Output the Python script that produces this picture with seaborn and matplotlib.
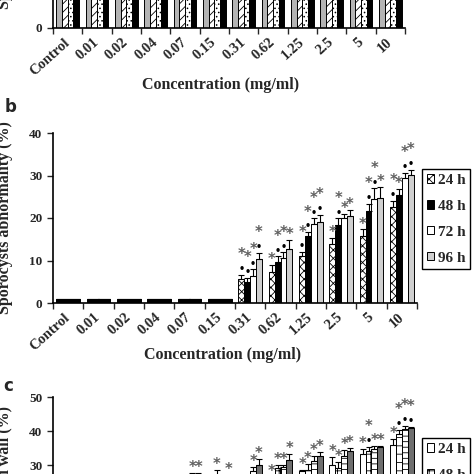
import pandas as pd
import matplotlib
matplotlib.use("Agg")
import matplotlib.pyplot as plt
import seaborn as sns
from matplotlib.patches import Patch

sns.set_style("ticks")
plt.rcParams['font.family'] = ['Liberation Serif', 'DejaVu Serif']
plt.rcParams['font.weight'] = 'bold'
plt.rcParams['axes.labelweight'] = 'bold'
plt.rcParams['hatch.linewidth'] = 0.6

# ---------------- data ----------------
conc = ['Control', '0.01', '0.02', '0.04', '0.07', '0.15',
        '0.31', '0.62', '1.25', '2.5', '5', '10']
times = ['24 h', '48 h', '72 h', '96 h']

# panel a (only the base of the bars is visible)
a_vals = {
    '24 h': [100, 100, 100, 100, 100, 100, 100, 100, 100, 100, 100, 100],
    '48 h': [100, 100, 100, 100, 100, 100, 100, 100, 100, 100, 100, 100],
    '72 h': [100, 100, 100, 100, 100, 100, 100, 100, 100, 100, 100, 100],
    '96 h': [100, 100, 100, 100, 100, 100, 100, 100, 100, 100, 100, 100],
}

# panel b: sporocysts abnormality (%)
b_24 = [0.9, 0.9, 0.9, 0.9, 0.9, 0.9, 5.6, 7.3, 11.1, 13.8, 15.7, 22.5]
b_48 = [0.9, 0.9, 0.9, 0.9, 0.9, 0.9, 5.0, 9.7, 15.7, 18.4, 21.7, 25.5]
b_72 = [0.9, 0.9, 0.9, 0.9, 0.9, 0.9, 6.4, 10.7, 18.5, 20.0, 24.4, 29.4]
b_96 = [0.9, 0.9, 0.9, 0.9, 0.9, 0.9, 10.3, 12.8, 19.1, 20.4, 24.8, 30.2]
be_24 = [0, 0, 0, 0, 0, 0, 1.1, 1.6, 0.9, 1.6, 1.6, 1.5]
be_48 = [0, 0, 0, 0, 0, 0, 1.0, 1.3, 1.0, 1.5, 1.6, 1.4]
be_72 = [0, 0, 0, 0, 0, 0, 1.5, 1.2, 1.4, 0.9, 2.6, 1.3]
be_96 = [0, 0, 0, 0, 0, 0, 1.5, 2.0, 1.7, 1.5, 2.4, 1.1]
# marks: 'ds' = dot + star, 's' = star only
bm_24 = ['', '', '', '', '', '', 'ds', 's', 'ds', 's', 's', 'ds']
bm_48 = ['', '', '', '', '', '', 'ds', 'ds', 'ds', 'ds', 'ds', 's']
bm_72 = ['', '', '', '', '', '', 'ds', 'ds', 'ds', 's', 'ds', 'ds']
bm_96 = ['', '', '', '', '', '', 'ds', 's', 'ds', 's', 's', 'ds']

# panel c: damaged wall (%)
c_24 = [2.0, 12.0, 16.0, 20.0, 23.0, 24.0, 25.0, 25.5, 28.2, 30.0, 33.1, 35.8]
c_48 = [2.0, 13.0, 17.0, 21.0, 23.5, 26.5, 26.0, 29.2, 28.5, 29.2, 34.1, 39.2]
c_72 = [2.0, 14.0, 18.0, 22.0, 26.5, 24.5, 28.2, 29.5, 31.2, 32.6, 34.8, 40.7]
c_96 = [2.0, 14.5, 18.5, 22.5, 26.5, 26.0, 30.0, 31.4, 32.6, 34.1, 35.3, 41.0]
ce_24 = [1.0, 1.0, 1.0, 1.0, 1.0, 1.0, 1.0, 1.0, 0.3, 2.3, 1.5, 1.8]
ce_48 = [1.0, 1.0, 1.0, 1.0, 1.0, 2.0, 1.0, 0.8, 1.7, 1.8, 1.3, 1.1]
ce_72 = [1.0, 1.0, 1.0, 1.0, 1.1, 1.0, 1.2, 0.6, 1.4, 1.8, 0.8, 0.8]
ce_96 = [1.0, 1.0, 1.0, 1.0, 1.1, 1.0, 1.7, 1.8, 1.3, 0.8, 0.3, 0.3]
cm_24 = ['', '', '', '', '', '', '', 's', 's', 's', 's', 's']
cm_48 = ['', '', '', '', '', 's', '', 's', 's', 's', 'ds', 'ds']
cm_72 = ['', '', '', '', 's', '', 's', 's', 's', 's', 's', 'ds']
cm_96 = ['', '', '', '', 's', 's', 's', 's', 's', 's', 's', 'ds']


def long_df(series):
    rows = []
    for t, vals in series.items():
        for c, v in zip(conc, vals):
            rows.append({'conc': c, 'time': t, 'value': v})
    return pd.DataFrame(rows)


def draw_panel(ax, series, faces, hatches, errs=None, marks=None):
    df = long_df(series)
    sns.barplot(data=df, x='conc', y='value', hue='time', order=conc,
                hue_order=times, palette=faces, edgecolor='black',
                linewidth=0.7, errorbar=None, width=0.77, legend=False, ax=ax)
    bar_conts = list(ax.containers)
    for i, cont in enumerate(bar_conts):
        xs = [b.get_x() + b.get_width() / 2 for b in cont]
        for b in cont:
            b.set_hatch(hatches[i])
            # very low bars print as a solid black strip in the original
            if b.get_height() < 1.5:
                b.set_facecolor('black')
                b.set_hatch('')
        if errs is not None:
            vals = series[times[i]]
            ax.errorbar(xs, vals, yerr=[[0] * len(vals), errs[i]], fmt='none',
                        ecolor='black', elinewidth=0.8, capsize=2, capthick=0.8)
            for x, v, e, m in zip(xs, vals, errs[i], marks[i]):
                top = v + e
                if m == 'ds':
                    ax.annotate('•', (x, top), xytext=(0, 0.5), textcoords='offset points',
                                ha='center', va='bottom', fontsize=7, color='black',
                                family='DejaVu Sans')
                    ax.annotate('*', (x, top), xytext=(0, 9), textcoords='offset points',
                                ha='center', va='bottom', fontsize=10.5, color='#606060',
                                family='DejaVu Sans')
                elif m == 's':
                    ax.annotate('*', (x, top), xytext=(0, -1.5), textcoords='offset points',
                                ha='center', va='bottom', fontsize=10.5, color='#606060',
                                family='DejaVu Sans')
    ax.set_xlim(-0.5, len(conc) - 0.5)
    ax.set_xticks(range(len(conc)))
    ax.set_xticks([i - 0.5 for i in range(len(conc) + 1)], minor=True)
    ax.tick_params(axis='x', which='major', length=0, pad=9)
    ax.tick_params(axis='x', which='minor', length=4, width=1, direction='out')
    ax.tick_params(axis='y', length=4, width=1, direction='out', labelsize=9.5)
    ax.set_xticklabels(conc, rotation=42, ha='right', va='center',
                       rotation_mode='anchor', fontsize=10.5, fontweight='bold')
    for lab in ax.get_yticklabels():
        lab.set_fontweight('bold')
    sns.despine(ax=ax)
    for s in ['left', 'bottom']:
        ax.spines[s].set_linewidth(1.2)
        ax.spines[s].set_color('black')
    ax.set_xlabel('Concentration (mg/ml)', fontsize=11.5)


def add_legend(ax, faces, hatches, top_px):
    handles = [Patch(facecolor=f, edgecolor='black', hatch=h, linewidth=0.7, label=t)
               for f, h, t in zip(faces, hatches, times)]
    leg = ax.legend(handles=handles, loc='upper left',
                    bbox_to_anchor=(422 / W, (W - top_px) / W), bbox_transform=fig.transFigure,
                    borderaxespad=0, fancybox=False, framealpha=1, edgecolor='black',
                    fontsize=11, handlelength=0.5, handleheight=0.5, handletextpad=0.25,
                    labelspacing=0.85, borderpad=0.3)
    leg.get_frame().set_linewidth(1)


fig = plt.figure(figsize=(4.74, 4.74), dpi=100)
W = 474.0
ax_a = fig.add_axes([53 / W, (W - 28) / W, 352 / W, 170 / W])
ax_b = fig.add_axes([53 / W, (W - 303) / W, 364 / W, 170 / W])
ax_c = fig.add_axes([53 / W, (W - 567) / W, 364 / W, 170 / W])

# panel a
draw_panel(ax_a, a_vals, ['#b4b4b4', 'white', 'white', 'black'], ['', '////', '....', ''])
ax_a.set_ylim(0, 100)
ax_a.set_yticks(range(0, 101, 20))
ax_a.set_ylabel('Sporocysts mortality (%)', fontsize=11.5, loc='bottom')
ax_a.yaxis.set_label_coords(-0.115, (28 - 9) / 170.0)
ax_a.xaxis.set_label_coords(0.477, -0.29)

# panel b
b_series = {'24 h': b_24, '48 h': b_48, '72 h': b_72, '96 h': b_96}
b_faces = ['white', 'black', 'white', '#cfcfcf']
b_hatch = ['xxxx', '', '', '']
draw_panel(ax_b, b_series, b_faces, b_hatch,
           errs=[be_24, be_48, be_72, be_96], marks=[bm_24, bm_48, bm_72, bm_96])
ax_b.set_ylim(0, 40)
ax_b.set_yticks(range(0, 41, 10))
ax_b.set_ylabel('Sporocysts abnormality (%)', fontsize=11.5)
ax_b.yaxis.set_label_coords(-0.11, 0.5)
ax_b.xaxis.set_label_coords(0.467, -0.26)
add_legend(ax_b, b_faces, b_hatch, 169)

# panel c
c_series = {'24 h': c_24, '48 h': c_48, '72 h': c_72, '96 h': c_96}
c_faces = ['white', 'white', 'white', '#6e6e6e']
c_hatch = ['', '++', '---', '']
draw_panel(ax_c, c_series, c_faces, c_hatch,
           errs=[ce_24, ce_48, ce_72, ce_96], marks=[cm_24, cm_48, cm_72, cm_96])
ax_c.set_ylim(0, 50)
ax_c.set_yticks(range(0, 51, 10))
ax_c.set_ylabel('Sporocysts with damaged wall (%)', fontsize=11.5, loc='top')
ax_c.yaxis.set_label_coords(-0.11, (567 - 406) / 170.0)
add_legend(ax_c, c_faces, c_hatch, 438)

# panel letters
fig.text(5 / W, (W - 112) / W, 'b', fontsize=12, fontweight='bold', family='DejaVu Sans')
fig.text(3 / W, (W - 391) / W, 'c', fontsize=12, fontweight='bold', family='DejaVu Sans')

fig.savefig('out.png', dpi=100)
